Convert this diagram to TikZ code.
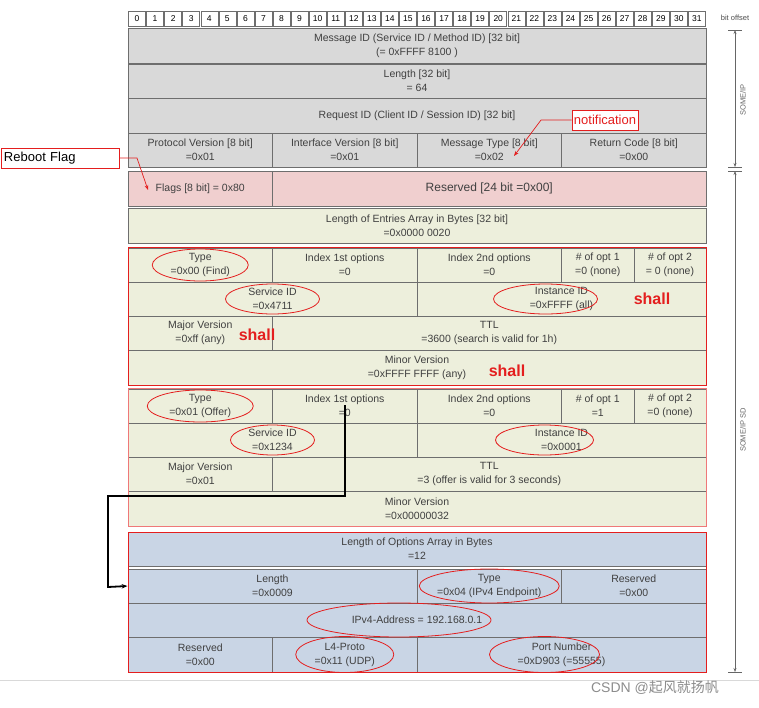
\documentclass[tikz,border=0pt]{standalone}
\usepackage{fontspec}
\setmainfont{Liberation Sans}
\newfontfamily\cjk{Noto Sans CJK SC}
\usetikzlibrary{arrows.meta}
\definecolor{cgray}{HTML}{D9D9D9}
\definecolor{cpink}{HTML}{F0CFCF}
\definecolor{cgreen}{HTML}{EDEFDC}
\definecolor{cblue}{HTML}{C9D5E5}
\definecolor{cedge}{HTML}{6E6E6E}
\definecolor{cred}{HTML}{E41E1E}
\tikzset{
  cell/.style={draw=cedge,line width=0.9pt,inner sep=0pt,align=center,font=\fontsize{10.5}{14}\selectfont,text=black!75},
  bit/.style={draw=cedge,line width=0.5pt,fill=white,inner sep=0pt,font=\fontsize{8.5}{8.5}\selectfont,minimum height=15pt},
  grp/.style={draw=cred,line width=1pt},
  oval/.style={draw=cred,line width=0.8pt},
  shall/.style={text=cred,font=\bfseries\fontsize{16}{16}\selectfont,inner sep=0pt},
  note/.style={draw=cred,line width=0.8pt,fill=white,inner sep=2pt,font=\fontsize{13}{13}\selectfont},
  redarr/.style={draw=cred,line width=0.7pt,-{Stealth[length=5pt]}},
}
% \mycell{name}{x1}{y1}{x2}{y2}{fill}{text}
\newcommand{\mycell}[7]{%
  \pgfmathsetmacro\cw{#4-#2}\pgfmathsetmacro\ch{#5-#3}%
  \node[cell,fill=#6,minimum width=\cw pt,minimum height=\ch pt] (#1) at ({(#2+#4)/2},{(#3+#5)/2}) {#7};}
\begin{document}
\begin{tikzpicture}[x=1pt,y=-1pt]
\useasboundingbox (0,0) rectangle (759,707);
% bit header
\foreach \i in {0,...,31}{
  \node[bit,minimum width=17pt] (b\i) at ({128+18.06*\i+9.03},18.5) {\i};
}
\node[font=\fontsize{7.5}{7.5}\selectfont,text=black!70] (boff) at (735,18) {bit offset};
% SOME/IP header
\mycell{msgid}{128}{28}{706}{63}{cgray}{Message ID (Service ID / Method ID) [32 bit]\\(= 0xFFFF 8100 )}
\mycell{len}{128}{64}{706}{98}{cgray}{Length [32 bit]\\= 64}
\mycell{req}{128}{98}{706}{133}{cgray}{Request ID (Client ID / Session ID) [32 bit]}
\mycell{pv}{128}{133}{272.5}{167}{cgray}{Protocol Version [8 bit]\\=0x01}
\mycell{iv}{272.5}{133}{417}{167}{cgray}{Interface Version [8 bit]\\=0x01}
\mycell{mt}{417}{133}{561.5}{167}{cgray}{Message Type [8 bit]\\=0x02}
\mycell{rc}{561.5}{133}{706}{167}{cgray}{Return Code [8 bit]\\=0x00}
% flags
\mycell{flags}{128}{171}{272.5}{206}{cpink}{Flags [8 bit] = 0x80}
\mycell{res}{272.5}{171}{706}{206}{cpink}{\fontsize{12}{14}\selectfont Reserved [24 bit =0x00]}
\mycell{lenent}{128}{208}{706}{243}{cgreen}{Length of Entries Array in Bytes [32 bit]\\=0x0000 0020}
% entry 1
\mycell{t1}{128}{248}{272.5}{282}{cgreen}{Type\\=0x00 (Find)}
\mycell{i1a}{272.5}{248}{417}{282}{cgreen}{Index 1st options\\=0}
\mycell{i1b}{417}{248}{561.5}{282}{cgreen}{Index 2nd options\\=0}
\mycell{n1a}{561.5}{248}{634}{282}{cgreen}{\# of opt 1\\=0 (none)}
\mycell{n1b}{634}{248}{706}{282}{cgreen}{\# of opt 2\\= 0 (none)}
\mycell{s1}{128}{282}{417}{316}{cgreen}{Service ID\\=0x4711}
\mycell{in1}{417}{282}{706}{316}{cgreen}{Instance ID\\=0xFFFF (all)}
\mycell{mj1}{128}{316}{272.5}{350}{cgreen}{Major Version\\=0xff (any)}
\mycell{ttl1}{272.5}{316}{706}{350}{cgreen}{TTL\\=3600 (search is valid for 1h)}
\mycell{mn1}{128}{350}{706}{385}{cgreen}{Minor Version\\=0xFFFF FFFF (any)}
\draw[grp] (128,247) rectangle (706,385);
% entry 2
\mycell{t2}{128}{389}{272.5}{423}{cgreen}{Type\\=0x01 (Offer)}
\mycell{i2a}{272.5}{389}{417}{423}{cgreen}{Index 1st options\\=0}
\mycell{i2b}{417}{389}{561.5}{423}{cgreen}{Index 2nd options\\=0}
\mycell{n2a}{561.5}{389}{634}{423}{cgreen}{\# of opt 1\\=1}
\mycell{n2b}{634}{389}{706}{423}{cgreen}{\# of opt 2\\=0 (none)}
\mycell{s2}{128}{423}{417}{457}{cgreen}{Service ID\\=0x1234}
\mycell{in2}{417}{423}{706}{457}{cgreen}{Instance ID\\=0x0001}
\mycell{mj2}{128}{457}{272.5}{491}{cgreen}{Major Version\\=0x01}
\mycell{ttl2}{272.5}{457}{706}{491}{cgreen}{TTL\\=3 (offer is valid for 3 seconds)}
\mycell{mn2}{128}{491}{706}{526}{cgreen}{Minor Version\\=0x00000032}
\draw[grp,draw=cred!60] (128,388) rectangle (706,526);
% options
\mycell{lenopt}{128}{532}{706}{566}{cblue}{Length of Options Array in Bytes\\=12}
\mycell{olen}{128}{569}{417}{603}{cblue}{Length\\=0x0009}
\mycell{otype}{417}{569}{561.5}{603}{cblue}{Type\\=0x04 (IPv4 Endpoint)}
\mycell{ores}{561.5}{569}{706}{603}{cblue}{Reserved\\=0x00}
\mycell{oip}{128}{603}{706}{637}{cblue}{IPv4-Address = 192.168.0.1}
\mycell{ores2}{128}{637}{272.5}{672}{cblue}{Reserved\\=0x00}
\mycell{oproto}{272.5}{637}{417}{672}{cblue}{L4-Proto\\=0x11 (UDP)}
\mycell{oport}{417}{637}{706}{672}{cblue}{Port Number\\=0xD903 (=55555)}
\draw[grp] (128,532) rectangle (706,672);
% ovals
\draw[oval] (t1.center) ellipse (48 and 16);
\draw[oval] (s1.center) ellipse (47 and 15);
\draw[oval] ([xshift=-16pt]in1.center) ellipse (52 and 15);
\draw[oval] (t2.center) ellipse (53 and 16);
\draw[oval] (s2.center) ellipse (42 and 15);
\draw[oval] ([xshift=-17pt]in2.center) ellipse (49 and 15);
\draw[oval] (otype.center) ellipse (70 and 17);
\draw[oval] ([xshift=-18pt]oip.center) ellipse (92 and 17);
\draw[oval] (oproto.center) ellipse (49 and 18);
\draw[oval] ([xshift=-17pt]oport.center) ellipse (55 and 18);
% shall
\node[shall] (sh1) at (652,299) {shall};
\node[shall] (sh2) at (257,335) {shall};
\node[shall] (sh3) at (507,371) {shall};
% annotations
\node[note,minimum width=118pt,minimum height=20pt,align=left,text width=112pt] (reboot) at (60,158) {Reboot Flag};
\coordinate (rb1) at (137,158);
\draw[redarr] (reboot.east) -- (rb1) -- (148,190);
\node[note,text=cred,minimum height=20pt] (notif) at (605,120) {notification};
\coordinate (nt1) at (541,120);
\draw[redarr] (notif.west) -- (nt1) -- (514,156);
% black connector
\coordinate (c1) at (345,405);
\coordinate (c2) at (345,496);
\coordinate (c3) at (108,496);
\coordinate (c4) at (108,587);
\draw[line width=1.8pt,-{Stealth[length=6pt]}] (c1) -- (c2) -- (c3) -- (c4) -- (olen.west);
% right bracket
\coordinate (r1) at (735,30);
\coordinate (r2) at (735,167);
\coordinate (r3) at (735,171);
\coordinate (r4) at (735,672);
\draw[black!60,line width=0.5pt,{Stealth[length=4pt]}-{Stealth[length=4pt]}] (r1) -- (r2);
\draw[black!60,line width=0.5pt,{Stealth[length=4pt]}-{Stealth[length=4pt]}] (r3) -- (r4);
\draw[black!60] (728,30) -- (742,30) (728,167) -- (742,167) (728,171) -- (742,171) (728,672) -- (742,672);
\node[rotate=90,font=\fontsize{7.5}{7.5}\selectfont,text=black!60,fill=white,inner sep=1pt] (lab1) at (743,100) {SOME/IP};
\node[rotate=90,font=\fontsize{7.5}{7.5}\selectfont,text=black!60,fill=white,inner sep=1pt] (lab2) at (743,430) {SOME/IP SD};
\draw[black!15] (0,680) -- (759,680);
% watermark
\node[text=black!45,font=\fontsize{14}{14}\selectfont] (wm) at (655,688) {CSDN @{\cjk 起风就扬帆}};
\end{tikzpicture}
\end{document}
